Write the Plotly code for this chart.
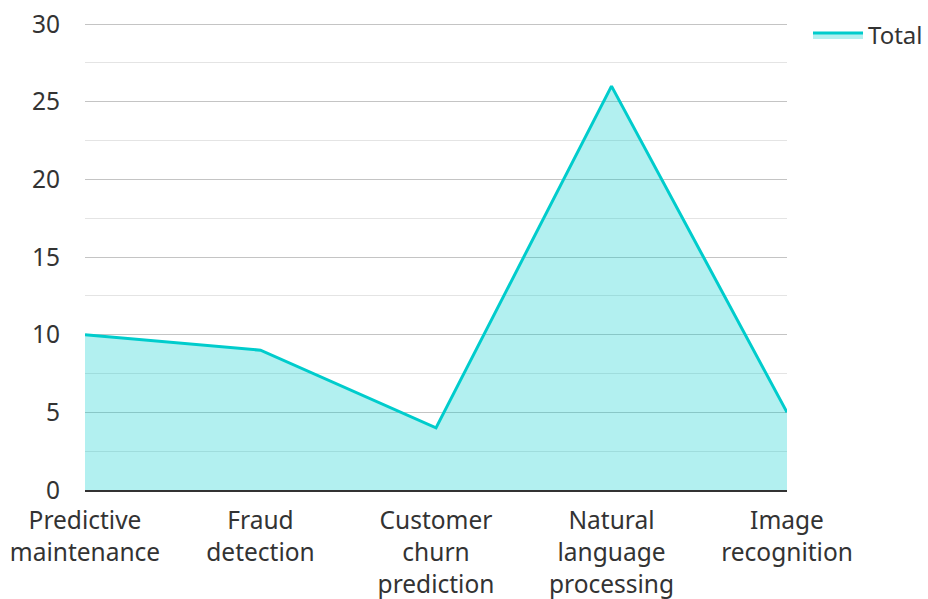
import plotly.graph_objects as go

categories = ["Predictive<br>maintenance", "Fraud<br>detection", "Customer<br>churn<br>prediction",
              "Natural<br>language<br>processing", "Image<br>recognition"]
values = [10, 9, 4, 26, 5]
series_name = "Total"
y_ticks = [0, 5, 10, 15, 20, 25, 30]

fig = go.Figure()
fig.add_trace(go.Scatter(
    x=list(range(len(categories))), y=values, name=series_name, mode="lines",
    line=dict(color="#00cccc", width=3),
    fill="tozeroy", fillcolor="rgba(0,204,204,0.30)",
))

font_family = "Noto Sans"
fig.update_layout(
    width=928, height=599,
    margin=dict(l=85, r=141, t=22, b=109, autoexpand=False),
    paper_bgcolor="white", plot_bgcolor="white",
    font=dict(family=font_family, size=24.5, color="#333333"),
    showlegend=True,
    legend=dict(xref="container", yref="container", x=1.0, y=0.9783,
                xanchor="right", yanchor="top", itemwidth=50,
                font=dict(size=24, color="#333333"), bgcolor="rgba(0,0,0,0)"),
    xaxis=dict(range=[0, 4], tickmode="array", tickvals=list(range(len(categories))),
               ticktext=categories, showgrid=False, zeroline=False, automargin=False,
               showline=True, linecolor="#333333", linewidth=2,
               ticks="", ticklabelstandoff=8, ticklabeloverflow="allow"),
    yaxis=dict(range=[0, 30.129], tickmode="array", tickvals=y_ticks, showgrid=True,
               gridcolor="#c4c4c4", gridwidth=1, automargin=False,
               zeroline=False, showline=False, ticks="", ticklabelstandoff=24,
               ticklabeloverflow="allow",
               minor=dict(dtick=2.5, showgrid=True, gridcolor="#e4e4e4", gridwidth=1)),
)

fig.write_html("out.html", config={"displayModeBar": False},
               post_script="document.body.style.margin='0';document.body.style.overflow='hidden';")
